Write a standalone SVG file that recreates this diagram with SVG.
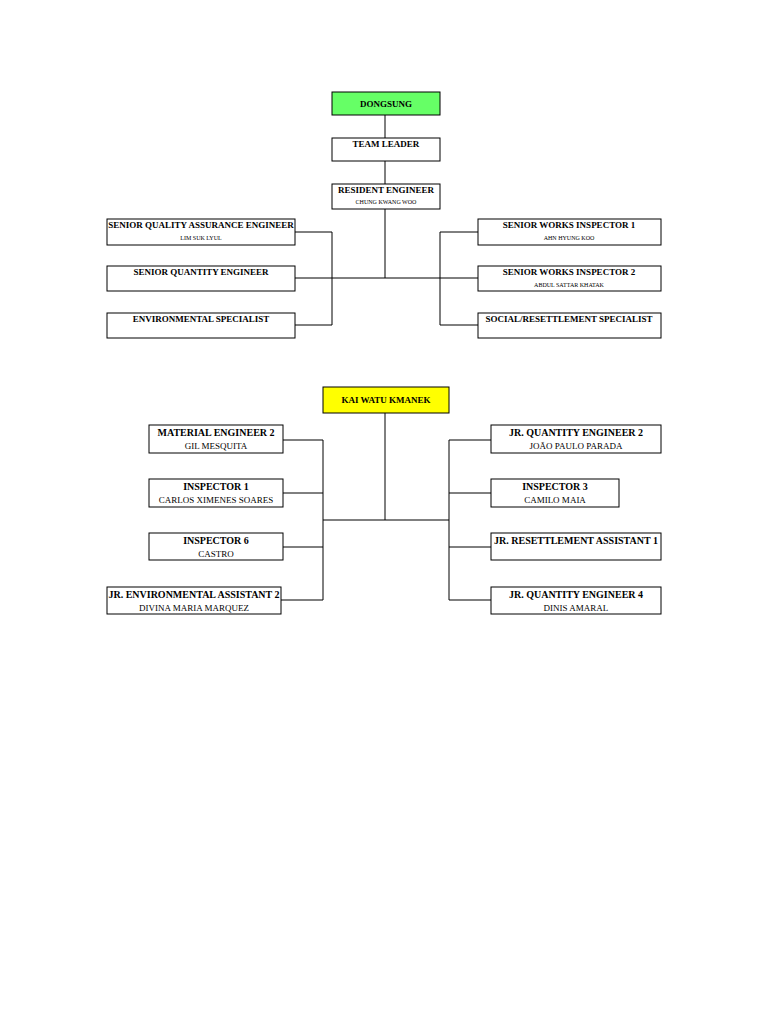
<svg xmlns="http://www.w3.org/2000/svg" width="768" height="1024" viewBox="0 0 768 1024">
<style>
rect{stroke:#000;stroke-width:1;fill:#fff}
.t{font-family:"Liberation Serif",serif;font-weight:bold;font-size:9px;text-anchor:middle}
.s{font-family:"Liberation Serif",serif;font-size:6px;text-anchor:middle}
.t2{font-family:"Liberation Serif",serif;font-weight:bold;font-size:10px;text-anchor:middle}
.s2{font-family:"Liberation Serif",serif;font-size:9px;text-anchor:middle}
#conn path{stroke:#000;stroke-width:1;fill:none}
</style>
<rect x="0" y="0" width="768" height="1024" style="fill:#fff;stroke:none"/>
<g id="conn">
<path d="M385 115V138M385 161V184M385 209V278M295 278H440M295 232H332V325H295M661 232M478 232H440V325H478M440 278H478"/>
<path d="M385 413V520H323M385 520H449M283 440H323V600H281M283 493H323M283 547H323M491 440H449V600H491M449 493H491M449 547H491"/>
</g>
<g id="dongsung"><rect x="332" y="92" width="108" height="23" style="fill:#66ff66"/><text class="t" x="386" y="107">DONGSUNG</text></g>
<g id="teamleader"><rect x="332" y="138" width="108" height="23"/><text class="t" x="386" y="147">TEAM LEADER</text></g>
<g id="re"><rect x="332" y="184" width="108" height="25"/><text class="t" x="386" y="193">RESIDENT ENGINEER</text><text class="s" x="386" y="204">CHUNG KWANG WOO</text></g>
<g id="sqa"><rect x="107" y="219" width="188" height="26"/><text class="t" x="201" y="228">SENIOR QUALITY ASSURANCE ENGINEER</text><text class="s" x="201" y="240">LIM SUK LYUL</text></g>
<g id="sqe"><rect x="107" y="266" width="188" height="25"/><text class="t" x="201" y="275">SENIOR QUANTITY  ENGINEER</text></g>
<g id="env"><rect x="107" y="313" width="188" height="25"/><text class="t" x="201" y="322">ENVIRONMENTAL SPECIALIST</text></g>
<g id="swi1"><rect x="478" y="219" width="183" height="26"/><text class="t" x="569" y="228">SENIOR WORKS INSPECTOR 1</text><text class="s" x="569" y="240">AHN HYUNG KOO</text></g>
<g id="swi2"><rect x="478" y="266" width="183" height="25"/><text class="t" x="569" y="275">SENIOR WORKS INSPECTOR 2</text><text class="s" x="569" y="287">ABDUL SATTAR KHATAK</text></g>
<g id="social"><rect x="478" y="313" width="183" height="25"/><text class="t" x="569" y="322">SOCIAL/RESETTLEMENT SPECIALIST</text></g>
<g id="kai"><rect x="323" y="387" width="126" height="26" style="fill:#ffff00"/><text class="t" x="386" y="403">KAI WATU KMANEK</text></g>
<g id="me2"><rect x="149" y="425" width="134" height="28"/><text class="t2" x="216" y="436">MATERIAL ENGINEER 2</text><text class="s2" x="216" y="449">GIL MESQUITA</text></g>
<g id="ins1"><rect x="149" y="479" width="134" height="28"/><text class="t2" x="216" y="490">INSPECTOR 1</text><text class="s2" x="216" y="503">CARLOS XIMENES SOARES</text></g>
<g id="ins6"><rect x="149" y="533" width="134" height="27"/><text class="t2" x="216" y="544">INSPECTOR 6</text><text class="s2" x="216" y="557">CASTRO</text></g>
<g id="jea2"><rect x="107" y="587" width="174" height="27"/><text class="t2" x="194" y="598">JR. ENVIRONMENTAL ASSISTANT 2</text><text class="s2" x="194" y="611">DIVINA MARIA MARQUEZ</text></g>
<g id="jqe2"><rect x="491" y="425" width="170" height="28"/><text class="t2" x="576" y="436">JR. QUANTITY ENGINEER 2</text><text class="s2" x="576" y="449">JOÃO PAULO PARADA</text></g>
<g id="ins3"><rect x="491" y="479" width="128" height="28"/><text class="t2" x="555" y="490">INSPECTOR 3</text><text class="s2" x="555" y="503">CAMILO MAIA</text></g>
<g id="jra1"><rect x="491" y="533" width="170" height="27"/><text class="t2" x="576" y="544">JR. RESETTLEMENT ASSISTANT 1</text></g>
<g id="jqe4"><rect x="491" y="587" width="170" height="27"/><text class="t2" x="576" y="598">JR. QUANTITY ENGINEER 4</text><text class="s2" x="576" y="611">DINIS AMARAL</text></g>
</svg>
